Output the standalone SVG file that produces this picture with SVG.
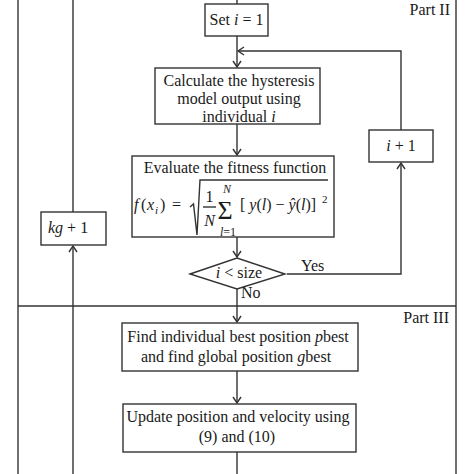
<svg xmlns="http://www.w3.org/2000/svg" width="474" height="474" viewBox="0 0 474 474">
<defs>
<style>
.b{fill:#fff;stroke:#333;stroke-width:1.4}
.l{fill:none;stroke:#333;stroke-width:1.4}
.t{font-family:"Liberation Serif","Times New Roman",serif;font-size:16px;fill:#1a1a1a}
.c{text-anchor:middle}
.i{font-style:italic}
.s{font-size:11px}
.m{font-size:12px}
.g{font-size:26px}
</style>
<marker id="ah" markerUnits="userSpaceOnUse" markerWidth="12" markerHeight="12" refX="0" refY="0" viewBox="-8 -6 10 12" orient="auto" overflow="visible">
<path d="M-6,-4 L0,0 L-6,4" fill="none" stroke="#333" stroke-width="1.4"/>
</marker>
</defs>
<rect width="474" height="474" fill="#fff"/>
<g id="frame" class="l">
<line x1="18" y1="0" x2="18" y2="474"/>
<line x1="456" y1="0" x2="456" y2="474"/>
<line x1="18" y1="306" x2="456" y2="306"/>
</g>
<text class="t" x="450" y="15" text-anchor="end">Part II</text>
<text class="t" x="449" y="323" text-anchor="end">Part III</text>
<g id="connectors" class="l">
<line x1="237" y1="0" x2="237" y2="4"/>
<line x1="237" y1="36" x2="237" y2="67" marker-end="url(#ah)"/>
<polyline points="401,130 401,51 238,51" marker-end="url(#ah)"/>
<line x1="237" y1="124" x2="237" y2="155" marker-end="url(#ah)"/>
<line x1="237" y1="237" x2="237" y2="257" marker-end="url(#ah)"/>
<polyline points="287,274 401,274 401,163" marker-end="url(#ah)"/>
<line x1="237" y1="289" x2="237" y2="322" marker-end="url(#ah)"/>
<line x1="237" y1="371" x2="237" y2="403" marker-end="url(#ah)"/>
<line x1="237" y1="452" x2="237" y2="474"/>
<line x1="73" y1="474" x2="73" y2="246" marker-end="url(#ah)"/>
<line x1="73" y1="212" x2="73" y2="0"/>
</g>
<text class="t" x="301" y="271">Yes</text>
<text class="t" x="241" y="298">No</text>
<g id="set">
<rect class="b" x="205" y="4" width="63" height="32"/>
<text class="t c" x="236.5" y="25">Set <tspan class="i">i</tspan> = 1</text>
</g>
<g id="calc">
<rect class="b" x="155" y="68" width="165" height="56"/>
<text class="t c" x="239" y="86">Calculate the hysteresis</text>
<text class="t c" x="239" y="104">model output using</text>
<text class="t c" x="239" y="122">individual <tspan class="i">i</tspan></text>
</g>
<g id="inc">
<rect class="b" x="369" y="130" width="64" height="32"/>
<text class="t c" x="401" y="151"><tspan class="i">i</tspan> + 1</text>
</g>
<g id="eval">
<rect class="b" x="132" y="156" width="202" height="81"/>
<text class="t c" x="235" y="173">Evaluate the fitness function</text>
<text class="t i" x="134" y="210">f</text>
<text class="t" x="141" y="210">(</text>
<text class="t i" x="147" y="210">x</text>
<text class="t i s" x="155" y="214">i</text>
<text class="t" x="160" y="210">)</text>
<text class="t" x="172" y="210">=</text>
<path class="l" d="M190,207 L193.5,204 L197,235 L200,180 L328,180" stroke-width="1.2"/>
<text class="t c" x="209.5" y="202">1</text>
<line class="l" x1="203" y1="207" x2="216" y2="207" stroke-width="1"/>
<text class="t c i" x="209.5" y="226">N</text>
<text class="t c g" x="225" y="219">Σ</text>
<text class="t c i m" x="227" y="193">N</text>
<text class="t c m" x="228" y="235.5"><tspan class="i">l</tspan>=1</text>
<text class="t" x="240" y="210">[ <tspan class="i">y</tspan>(<tspan class="i">l</tspan>) − <tspan class="i">ŷ</tspan>(<tspan class="i">l</tspan>)]</text>
<text class="t s" x="322" y="203">2</text>
</g>
<g id="cond">
<polygon class="b" points="190,274 237,258 285,274 237,289"/>
<text class="t c" x="239" y="278"><tspan class="i">i</tspan> &lt; size</text>
</g>
<g id="kg">
<rect class="b" x="41" y="212" width="65" height="33"/>
<text class="t" x="48" y="233"><tspan class="i">kg</tspan> + 1</text>
</g>
<g id="find">
<rect class="b" x="122" y="323" width="236" height="48"/>
<text class="t c" x="238" y="342">Find individual best position <tspan class="i">p</tspan>best</text>
<text class="t c" x="236" y="362">and find global position <tspan class="i">g</tspan>best</text>
</g>
<g id="update">
<rect class="b" x="123" y="404" width="233" height="48"/>
<text class="t c" x="238" y="422">Update position and velocity using</text>
<text class="t c" x="237" y="442">(9) and (10)</text>
</g>
</svg>
